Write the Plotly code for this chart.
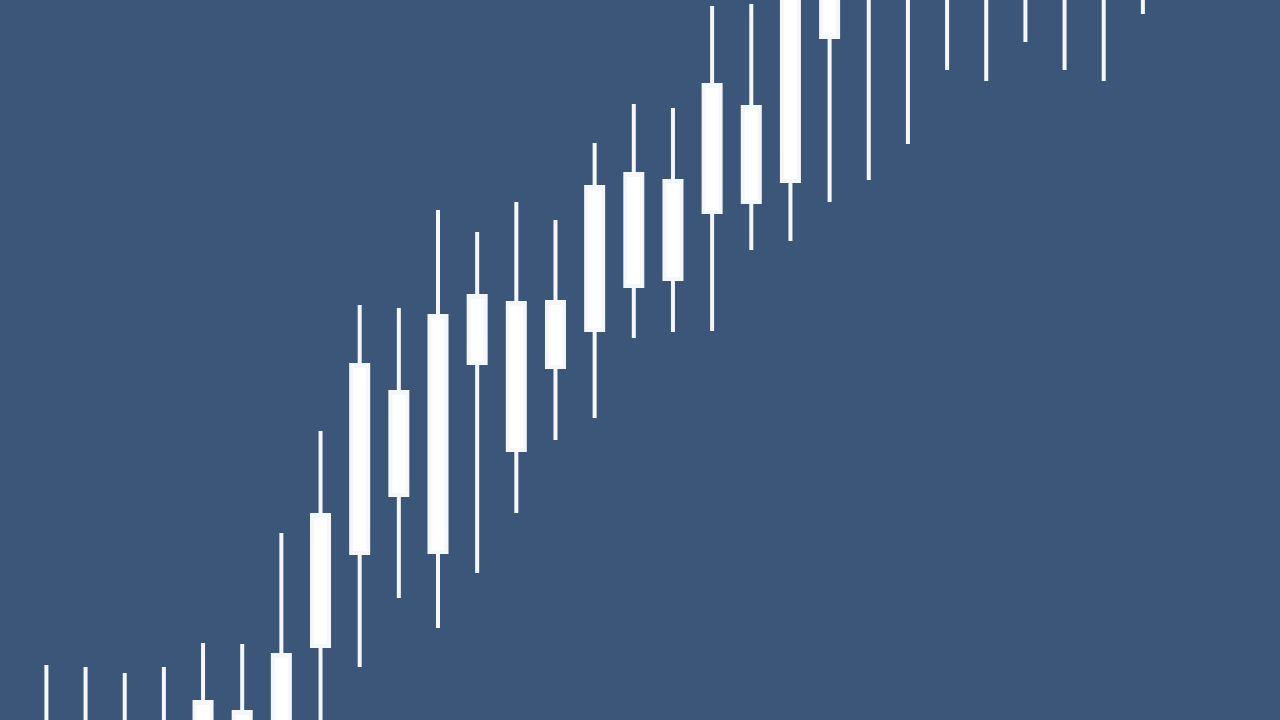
import plotly.graph_objects as go

# Candle index (left to right)
idx = list(range(29))
# Prices in chart units (0 = bottom edge, 720 = top edge of view)
open_ = [-30, -30, -30, -30, -20, -20, -30, 74, 167, 225, 168, 357, 270, 353, 390, 434, 441, 508, 518, 539, 683, 760, 760, 760, 760, 760, 760, 760, 760]
close = [-10, -10, -10, -10, 18, 8, 65, 205, 355, 328, 404, 424, 417, 418, 533, 546, 539, 635, 613, 760, 770, 790, 790, 790, 790, 790, 790, 790, 790]
high = [55, 53, 47, 53, 77, 76, 187, 289, 415, 412, 510, 488, 518, 500, 577, 616, 612, 714, 716, 780, 800, 820, 820, 820, 820, 820, 820, 820, 820]
low = [-40, -40, -40, -40, -40, -40, -50, -20, 53, 122, 92, 147, 207, 280, 302, 382, 388, 389, 470, 479, 518, 540, 576, 650, 639, 678, 650, 639, 706]

fig = go.Figure(go.Candlestick(
    x=idx, open=open_, high=high, low=low, close=close,
    increasing=dict(line=dict(color="#f4f7fb", width=4), fillcolor="#ffffff"),
    decreasing=dict(line=dict(color="#f4f7fb", width=4), fillcolor="#ffffff"),
    whiskerwidth=0,
    hoverinfo="skip",
))

scale = 39.16
x0 = 46.4
fig.update_layout(
    width=1280, height=720,
    margin=dict(l=0, r=0, t=0, b=0),
    paper_bgcolor="#3c5679", plot_bgcolor="#3c5679",
    showlegend=False,
    boxgap=0.38,
    xaxis=dict(range=[-x0 / scale, (1280 - x0) / scale], visible=False,
               rangeslider=dict(visible=False), showgrid=False, zeroline=False),
    yaxis=dict(range=[0, 720], visible=False, showgrid=False, zeroline=False),
)

post = ("document.body.style.margin='0';document.body.style.overflow='hidden';"
        "document.body.style.background='#3c5679';")
fig.write_html("out.html", post_script=post, config={"displayModeBar": False})
